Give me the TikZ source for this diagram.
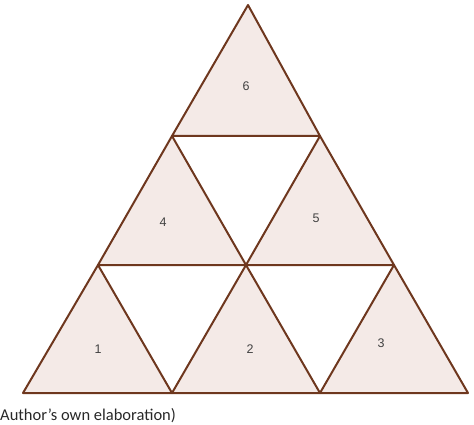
\documentclass[tikz,border=0pt]{standalone}
\usepackage{fontspec}
\setsansfont{Carlito}
\newfontfamily\numfont{Liberation Sans}
\definecolor{edgebrown}{RGB}{110,55,30}
\definecolor{tilefill}{RGB}{244,234,231}
\definecolor{numgray}{RGB}{65,65,65}
\definecolor{captiongray}{RGB}{40,40,40}

\begin{document}
\begin{tikzpicture}[x=1pt,y=-1pt,
    tile/.style={draw=edgebrown,fill=tilefill,line width=2pt,line join=round},
    num/.style={font=\numfont\fontsize{12.5}{14}\selectfont,text=numgray}]
  \useasboundingbox (0,0) rectangle (474,425);
  % corners, bottom row to apex
  \coordinate (b0) at (23,393);
  \coordinate (b1) at (172,393);
  \coordinate (b2) at (320,393);
  \coordinate (b3) at (468,393);
  \coordinate (m0) at (98,265);
  \coordinate (m1) at (246,265);
  \coordinate (m2) at (394,265);
  \coordinate (t0) at (172,136);
  \coordinate (t1) at (320,136);
  \coordinate (apex) at (248,5);
  % shaded triangles
  \foreach \p/\q/\r in {b0/m0/b1, b1/m1/b2, b2/m2/b3, m0/t0/m1, m1/t1/m2, t0/apex/t1}
    \draw[tile] (\p) -- (\q) -- (\r) -- cycle;
  % numbers
  \node[num] (n1) at (98,349) {1};
  \node[num] (n2) at (250,349) {2};
  \node[num] (n3) at (381,343) {3};
  \node[num] (n4) at (163,222) {4};
  \node[num] (n5) at (316,218) {5};
  \node[num] (n6) at (246,86) {6};
  \node[anchor=base west,inner sep=0pt,font=\sffamily\fontsize{16.5}{19}\selectfont,text=captiongray]
    (caption) at (0,420.5) {Author’s own elaboration)};
\end{tikzpicture}
\end{document}
